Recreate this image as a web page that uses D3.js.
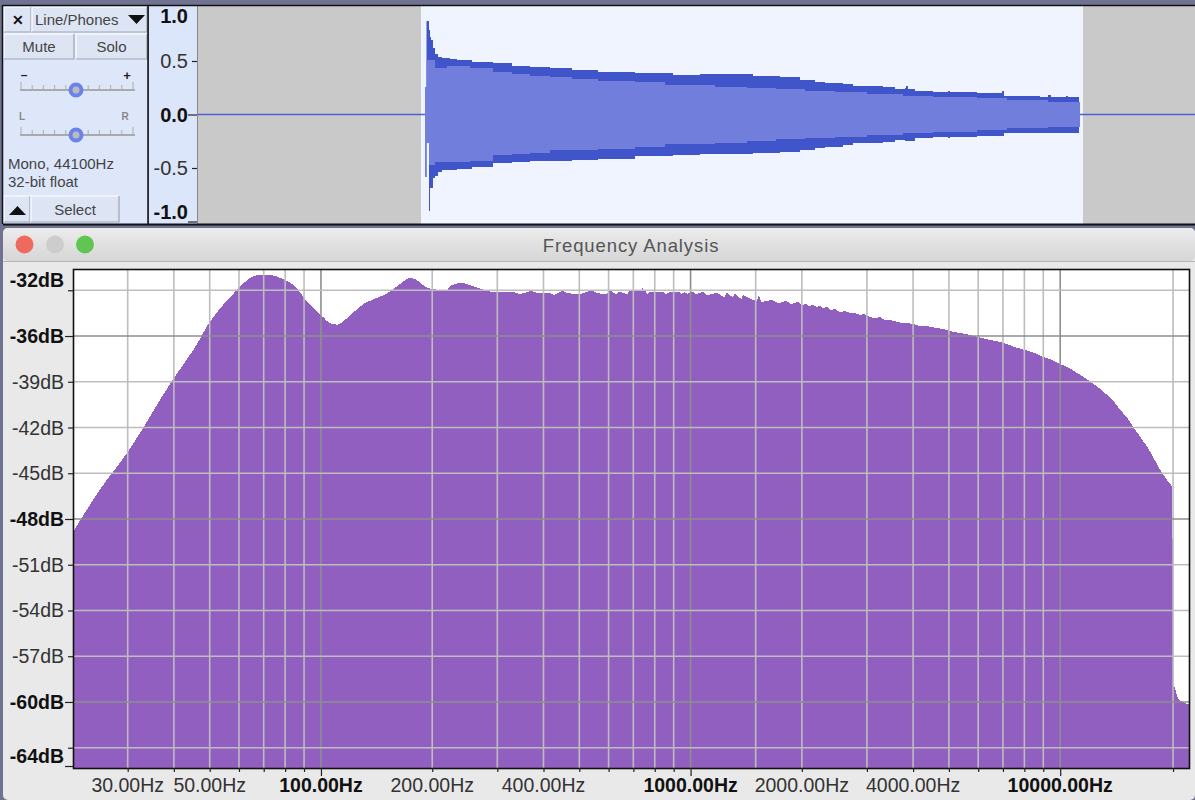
<!DOCTYPE html>
<html>
<head>
<meta charset="utf-8">
<title>Frequency Analysis</title>
<script src="https://cdn.jsdelivr.net/npm/d3@7"></script>
<style>
    body { margin: 0; background: #6f7391; }
    svg { display: block; font-family: "Liberation Sans", Arial, sans-serif; }
</style>
</head>
<body>
<svg id="chart"></svg>
<script>
// spectrum
const specHz = [21.5, 25.2, 30, 40, 45.5, 50, 54.9, 60, 64.2, 67.5, 70, 73.1, 80, 86, 90, 100, 107, 111, 116, 121,
    131.5, 144, 154.6, 163.6, 174, 179.6, 188.7, 194.7, 200, 218, 226, 241, 253, 273, 290, 304, 333, 344, 354, 372,
    384, 397, 415, 428, 442, 450, 464, 500, 522, 542, 558, 592, 604, 615, 627, 643, 672, 685, 700, 735, 740, 746,
    754, 763, 776, 800, 841, 857, 879, 900, 935, 946, 964, 982, 1000, 1013, 1038, 1078, 1113, 1176, 1236, 1252, 1300,
    1316, 1375, 1384, 1440, 1510, 1528, 1557, 1648, 1732, 1809, 1878, 1950, 2000, 2051, 2089, 2142, 2197, 2238, 2281,
    2338, 2397, 2458, 2535, 2616, 2698, 2785, 2873, 2945, 3019, 3152, 3253, 3356, 3464, 3620, 3805, 4000, 4178, 4310,
    4500, 4644, 4821, 5031, 5360, 5710, 6000, 6466, 7044, 7530, 8050, 8510, 9000, 9520, 10000, 10577, 11117, 11686,
    12200, 12830, 13400, 14000, 14540, 15190, 15770, 16470, 17200, 17970, 18650, 19370, 20100, 20200, 20370, 20760,
    21420, 22230, 22310];
const specDb = [-48.72, -46.10, -43.61, -38.75, -36.79, -35.08, -33.84, -32.85, -32.20, -32.0, -31.97, -32.0, -32.33,
    -32.85, -33.51, -34.62, -35.21, -35.25, -34.95, -34.56, -33.84, -33.44, -33.05, -32.59, -32.20, -32.26, -32.66,
    -32.85, -32.92, -33.0, -32.66, -32.52, -32.66, -32.92, -33.11, -33.11, -33.11, -33.25, -33.18, -33.05,
    -33.18, -33.18, -33.18, -33.31, -33.11, -33.05, -33.18, -33.25, -33.11, -33.05, -33.18, -33.25, -33.05, -33.11,
    -33.25, -33.08, -33.25, -33.05, -33.05, -33.05, -32.85, -33.05,
    -33.05, -33.25, -33.11, -33.11, -33.11, -33.25, -33.11, -33.11, -33.11, -33.25, -33.11, -33.25, -33.11, -33.11,
    -33.25, -33.11, -33.31, -33.18, -33.44, -33.18, -33.44,
    -33.25, -33.57, -33.31, -33.51, -33.70, -33.38, -33.77, -33.64, -33.84, -33.70, -33.90, -33.77, -33.97, -33.90,
    -34.03, -33.97, -34.10, -34.03, -34.16,
    -34.10, -34.30, -34.23, -34.43, -34.36, -34.49, -34.49, -34.62, -34.56, -34.69, -34.82, -34.76, -34.95, -34.95,
    -35.08, -35.15, -35.21, -35.34, -35.34,
    -35.41, -35.48, -35.54, -35.67, -35.80, -35.93, -36.07, -36.26, -36.46, -36.72, -36.92, -37.11, -37.38, -37.57,
    -37.84, -38.10, -38.43, -38.75,
    -39.08, -39.47, -39.87, -40.33, -40.85, -41.38, -41.97, -42.62, -43.28, -44.07, -44.79, -45.38, -45.97, -58.88,
    -59.0, -59.67, -60.0, -60.13, -60.13];

// frequency analysis rulers
const gridHz = [30, 40, 50, 60, 70, 80, 90, 100, 200, 300, 400, 500, 600, 700, 800, 900, 1000, 1500, 2000, 3000, 4000,
    5000, 6000, 7000, 8000, 9000, 10000, 20200];
const tickHz = [30, 40, 50, 60, 70, 80, 90, 100, 200, 300, 400, 500, 600, 700, 800, 900, 1000, 2000, 3000, 4000,
    5000, 6000, 7000, 8000, 9000, 10000, 20200];
const majorHz = [100, 1000, 10000];
const freqLabels = [30, 50, 100, 200, 400, 1000, 2000, 4000, 10000];
const gridDb = [-33, -36, -39, -42, -45, -48, -51, -54, -57, -60, -63];
const majorDb = [-36, -48, -60];
const dbLabels = [-32, -36, -39, -42, -45, -48, -51, -54, -57, -60, -64];
const boldDbLabels = [-32, -36, -48, -60, -64];

// waveform, peak envelope
const peakTime = [0, 0.015, 0.04, 0.05, 0.06, 0.08, 0.10, 0.13, 0.17, 0.25, 0.32, 0.47, 0.68, 0.87, 1.05, 1.25, 1.47,
    1.73, 2.10, 2.48, 2.75, 3.28, 3.55, 3.75, 3.90, 4.00, 4.18, 4.28, 4.58, 4.70, 4.80, 4.81, 4.83, 4.90, 5.08, 5.23,
    5.25, 5.52, 5.77, 5.79, 6.15, 6.23, 6.26, 6.41, 6.43, 6.54];
const peakTop = [0.257, 0.874, 0.790, 0.724, 0.696, 0.621, 0.565, 0.537, 0.528, 0.519, 0.509, 0.491, 0.481, 0.453,
    0.444, 0.435, 0.416, 0.397, 0.388, 0.369, 0.379, 0.360, 0.350, 0.322, 0.304, 0.294, 0.285, 0.266, 0.257, 0.238,
    0.248, 0.266, 0.238, 0.220, 0.210, 0.220, 0.210, 0.201, 0.220, 0.173, 0.164, 0.182, 0.164, 0.173, 0.164, 0.220];
const peakBottom = [-0.584, -0.266, -0.902, -0.687, -0.687, -0.593, -0.575, -0.537, -0.519, -0.519, -0.509, -0.491,
    -0.453, -0.444, -0.435, -0.435, -0.425, -0.416, -0.388, -0.379, -0.369, -0.360, -0.350, -0.332, -0.313, -0.304,
    -0.285, -0.266, -0.257, -0.238, -0.248, -0.248, -0.248, -0.220, -0.210, -0.220, -0.210, -0.201, -0.201, -0.173,
    -0.173, -0.173, -0.173, -0.173, -0.173, -0.164];

// waveform, rms envelope
const rmsTime = [0, 0.015, 0.04, 0.10, 0.22, 0.45, 0.68, 0.87, 1.05, 1.25, 1.47, 1.73, 2.10, 2.40, 2.90, 3.22, 3.51,
    3.80, 4.10, 4.42, 4.78, 5.08, 5.52, 5.82, 6.23, 6.55];
const rmsTop = [0.257, 0.509, 0.509, 0.435, 0.453, 0.435, 0.397, 0.379, 0.360, 0.350, 0.332, 0.313, 0.304, 0.276,
    0.257, 0.248, 0.238, 0.220, 0.210, 0.192, 0.173, 0.164, 0.154, 0.135, 0.117, 0.117];
const rmsBottom = [-0.584, -0.266, -0.472, -0.444, -0.444, -0.435, -0.379, -0.369, -0.360, -0.332, -0.332, -0.322,
    -0.304, -0.276, -0.266, -0.248, -0.229, -0.220, -0.210, -0.192, -0.173, -0.164, -0.145, -0.126, -0.117, -0.117];
const ampLabels = [1, 0.5, 0, -0.5, -1];

const svg = d3.select("#chart").attr("width", 1195).attr("height", 800);

function addRect(x, y, w, h, fill, stroke) {
    return svg.append("rect")
        .attr("x", x).attr("y", y).attr("width", w).attr("height", h)
        .attr("fill", fill)
        .attr("stroke", stroke || "none");
}

function addText(x, y, txt, size, anchor, color, weight) {
    return svg.append("text")
        .attr("x", x).attr("y", y)
        .attr("font-size", size)
        .attr("text-anchor", anchor || "start")
        .attr("dominant-baseline", "central")
        .attr("fill", color || "#333")
        .attr("font-weight", weight || "normal")
        .text(txt);
}

function addButton(x, y, w, h, txt) {
    addRect(x, y, w, h, "#dde5f4");
    svg.append("path")
        .attr("d", `M${x},${y + h} V${y} H${x + w}`)
        .attr("fill", "none").attr("stroke", "#f6f8fd").attr("stroke-width", 1.5);
    svg.append("path")
        .attr("d", `M${x + w},${y} V${y + h} H${x}`)
        .attr("fill", "none").attr("stroke", "#9ea4b0").attr("stroke-width", 1.2);
    if (txt) addText(x + w / 2, y + h / 2, txt, 15, "middle", "#444");
}

function addSlider(y) {
    svg.append("line")
        .attr("x1", 20).attr("x2", 135).attr("y1", y).attr("y2", y)
        .attr("stroke", "#aaa").attr("stroke-width", 2);
    for (let i = 0; i <= 10; i++) {
        svg.append("line")
            .attr("x1", 21 + i * 11.2).attr("x2", 21 + i * 11.2)
            .attr("y1", y - (i % 10 === 0 ? 8 : 5)).attr("y2", y)
            .attr("stroke", "#aaa").attr("stroke-width", 1);
    }
    svg.append("circle")
        .attr("cx", 76).attr("cy", y).attr("r", 5.5)
        .attr("fill", "#bbb").attr("stroke", "#6a82ec").attr("stroke-width", 4);
}

function drawTrackPanel() {
    addRect(0, 0, 1195, 5, "#6f7391");
    addRect(3, 6, 145, 218, "#dee7fa");
    addRect(149, 6, 49, 218, "#dce6fa");
    addRect(198, 6, 997, 218, "#c9c9c9");
    addRect(421, 6, 662, 218, "#eff4fe");

    addButton(4, 7, 27, 25);
    addText(18, 20, "✕", 14, "middle", "#111", "bold");
    addButton(32, 7, 115, 25);
    addText(35, 19, "Line/Phones", 15, "start", "#444");
    svg.append("path").attr("d", "M128,15 H145 L136.5,24 Z").attr("fill", "#111");
    addButton(4, 34, 70, 25, "Mute");
    addButton(76, 34, 71, 25, "Solo");

    addText(24, 75, "–", 12, "middle", "#222", "bold");
    addText(127, 75, "+", 13, "middle", "#222", "bold");
    addSlider(90);
    addText(22, 116, "L", 10, "middle", "#888", "bold");
    addText(125, 116, "R", 10, "middle", "#888", "bold");
    addSlider(135);
    addText(8, 163, "Mono, 44100Hz", 15, "start", "#444");
    addText(8, 181, "32-bit float", 15, "start", "#444");

    addButton(4, 196, 26, 26);
    svg.append("path").attr("d", "M9,215 H26 L17.5,206 Z").attr("fill", "#111");
    addButton(31, 196, 88, 26, "Select");

    svg.append("line").attr("x1", 148).attr("x2", 148).attr("y1", 5).attr("y2", 224)
        .attr("stroke", "#111").attr("stroke-width", 1.5);
    svg.append("line").attr("x1", 197.5).attr("x2", 197.5).attr("y1", 5).attr("y2", 224)
        .attr("stroke", "#888").attr("stroke-width", 1);
    svg.append("line").attr("x1", 3).attr("x2", 1195).attr("y1", 5.5).attr("y2", 5.5)
        .attr("stroke", "#111").attr("stroke-width", 1.5);
    svg.append("line").attr("x1", 3).attr("x2", 1195).attr("y1", 224.5).attr("y2", 224.5)
        .attr("stroke", "#111").attr("stroke-width", 2);
    svg.append("line").attr("x1", 2.5).attr("x2", 2.5).attr("y1", 5).attr("y2", 224)
        .attr("stroke", "#111").attr("stroke-width", 1.5);
}

function drawWaveform() {
    const xScale = d3.scaleLinear().domain([0, 6.55]).range([425, 1080]);
    const yScale = d3.scaleLinear().domain([-1, 1]).range([221.5, 7.5]);

    svg.append("line")
        .attr("x1", 198).attr("x2", 1195)
        .attr("y1", yScale(0)).attr("y2", yScale(0))
        .attr("stroke", "#4a62d2").attr("stroke-width", 1.5);

    const peakArea = d3.area()
        .x(i => xScale(peakTime[i]))
        .y0(i => yScale(peakBottom[i]))
        .y1(i => yScale(peakTop[i]))
        .curve(d3.curveStepAfter);
    svg.append("path")
        .attr("d", peakArea(d3.range(peakTime.length)))
        .attr("fill", "#3f55c9");

    const rmsArea = d3.area()
        .x(i => xScale(rmsTime[i]))
        .y0(i => yScale(rmsBottom[i]))
        .y1(i => yScale(rmsTop[i]))
        .curve(d3.curveStepAfter);
    svg.append("path")
        .attr("d", rmsArea(d3.range(rmsTime.length)))
        .attr("fill", "#727edc");

    // ruler
    const axis = d3.axisLeft(yScale).tickValues([0.5, 0, -0.5, -1]).tickFormat("").tickSize(5);
    const g = svg.append("g").attr("transform", "translate(197,0)").call(axis);
    g.select(".domain").remove();
    g.selectAll(".tick line").attr("stroke", "#222").attr("stroke-width", 1.2)
        .attr("x2", d => (d === 0 || d === -1) ? -9 : -5);

    svg.selectAll(".amp-label")
        .data(ampLabels)
        .enter()
        .append("text")
        .attr("class", "amp-label")
        .attr("x", 188)
        .attr("y", d => Math.max(16, Math.min(212, yScale(d))))
        .attr("text-anchor", "end")
        .attr("dominant-baseline", "central")
        .attr("font-size", 20)
        .attr("fill", d => d % 1 === 0 ? "#111" : "#333")
        .attr("font-weight", d => d % 1 === 0 ? "bold" : "normal")
        .text(d => d3.format(".1f")(d).replace("−", "-"));
}

function drawWindowChrome() {
    const defs = svg.append("defs");
    const grad = defs.append("linearGradient").attr("id", "titlebar")
        .attr("x1", 0).attr("x2", 0).attr("y1", 0).attr("y2", 1);
    grad.append("stop").attr("offset", 0).attr("stop-color", "#ececec");
    grad.append("stop").attr("offset", 1).attr("stop-color", "#d6d6d6");

    addRect(3, 228, 1192, 572, "#e9e9e9").attr("rx", 5);
    addRect(3, 228, 1192, 33, "url(#titlebar)").attr("rx", 5);
    svg.append("line").attr("x1", 3).attr("x2", 1195).attr("y1", 261.5).attr("y2", 261.5)
        .attr("stroke", "#b5b5b5").attr("stroke-width", 1);

    svg.append("circle").attr("cx", 24.5).attr("cy", 244.5).attr("r", 9).attr("fill", "#ee6a5f");
    svg.append("circle").attr("cx", 55).attr("cy", 244.5).attr("r", 9).attr("fill", "#cdcdcd");
    svg.append("circle").attr("cx", 85).attr("cy", 244.5).attr("r", 9).attr("fill", "#61c554");

    addText(631, 245, "Frequency Analysis", 18.5, "middle", "#555").attr("letter-spacing", 0.9);
}

function drawSpectrum() {
    const left = 74, right = 1189, top = 270, bottom = 768;
    const xScale = d3.scaleLog().domain([21.47, 22310]).range([left, right]);
    const yScale = d3.scaleLinear().domain([-64.33, -31.67]).range([bottom, top]);

    addRect(left, top, right - left, bottom - top, "#fff");

    const area = d3.area()
        .x(i => xScale(specHz[i]))
        .y0(bottom)
        .y1(i => yScale(specDb[i]))
        .curve(d3.curveMonotoneX);
    svg.append("path")
        .attr("d", area(d3.range(specHz.length)))
        .attr("fill", "#915fc0")
        .attr("shape-rendering", "crispEdges");

    svg.selectAll(".grid-x")
        .data(gridHz)
        .enter()
        .append("line")
        .attr("class", "grid-x")
        .attr("x1", d => xScale(d)).attr("x2", d => xScale(d))
        .attr("y1", top).attr("y2", bottom)
        .attr("stroke", d => majorHz.includes(d) ? "#8e8e8e" : "#bdbdbd")
        .attr("stroke-width", 1.6);

    svg.selectAll(".grid-y")
        .data(gridDb)
        .enter()
        .append("line")
        .attr("class", "grid-y")
        .attr("x1", left).attr("x2", right)
        .attr("y1", d => yScale(d)).attr("y2", d => yScale(d))
        .attr("stroke", d => majorDb.includes(d) ? "#8e8e8e" : "#bdbdbd")
        .attr("stroke-width", 1.6);

    addRect(left - 0.5, top - 0.5, right - left + 1, bottom - top + 1, "none", "#111").attr("stroke-width", 1.6);

    // rulers
    const xAxis = d3.axisBottom(xScale).tickValues(tickHz).tickFormat("").tickSize(4);
    const gx = svg.append("g").attr("transform", `translate(0,${bottom})`).call(xAxis);
    gx.select(".domain").remove();
    gx.selectAll(".tick line").attr("stroke", "#222").attr("stroke-width", 1.2)
        .attr("y2", d => majorHz.includes(d) ? 8 : 4);

    const yAxis = d3.axisLeft(yScale).tickValues(gridDb.concat([-64.2])).tickFormat("").tickSize(5);
    const gy = svg.append("g").attr("transform", `translate(${left - 1},0)`).call(yAxis);
    gy.select(".domain").remove();
    gy.selectAll(".tick line").attr("stroke", "#222").attr("stroke-width", 1.2)
        .attr("x2", d => (majorDb.includes(d) || d < -64) ? -8 : -5);

    svg.selectAll(".freq-label")
        .data(freqLabels)
        .enter()
        .append("text")
        .attr("class", "freq-label")
        .attr("x", d => xScale(d))
        .attr("y", 784.5)
        .attr("text-anchor", "middle")
        .attr("dominant-baseline", "central")
        .attr("font-size", 19.5)
        .attr("fill", d => majorHz.includes(d) ? "#111" : "#333")
        .attr("font-weight", d => majorHz.includes(d) ? "bold" : "normal")
        .text(d => d3.format(".2f")(d) + "Hz");

    svg.selectAll(".db-label")
        .data(dbLabels)
        .enter()
        .append("text")
        .attr("class", "db-label")
        .attr("x", 64)
        .attr("y", d => Math.max(279.5, Math.min(756, yScale(d))))
        .attr("text-anchor", "end")
        .attr("dominant-baseline", "central")
        .attr("font-size", 19.5)
        .attr("fill", d => boldDbLabels.includes(d) ? "#111" : "#333")
        .attr("font-weight", d => boldDbLabels.includes(d) ? "bold" : "normal")
        .text(d => d + "dB");
}

drawTrackPanel();
drawWaveform();
drawWindowChrome();
drawSpectrum();
</script>
</body>
</html>
